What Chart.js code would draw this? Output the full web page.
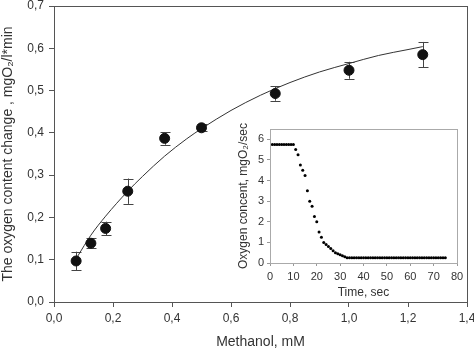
<!DOCTYPE html>
<html>
<head>
<meta charset="utf-8">
<script src="https://cdn.jsdelivr.net/npm/chart.js@4.4.1/dist/chart.umd.min.js"></script>
<style>
  body { margin: 0; background: #fff; overflow: hidden; }
  #wrap { position: relative; width: 474px; height: 351px; }
  #mainChart { position: absolute; left: 0; top: 0; }
  #insetChart { position: absolute; left: 228px; top: 122px; }
</style>
</head>
<body>
<div id="wrap">
  <canvas id="mainChart" width="474" height="351"></canvas>
  <canvas id="insetChart" width="236" height="178"></canvas>
</div>
<script>
// main plot: measured points with error bars
const methanol = [0.075, 0.125, 0.175, 0.25, 0.375, 0.5, 0.75, 1.0, 1.25];
const oxygenChange = [0.097, 0.139, 0.174, 0.262, 0.387, 0.412, 0.493, 0.548, 0.585];
const oxygenErr = [0.022, 0.012, 0.016, 0.030, 0.015, 0.008, 0.017, 0.020, 0.030];

// fitted curve
const fitX = [0.08, 0.125, 0.175, 0.25, 0.3, 0.375, 0.45, 0.5, 0.6, 0.7, 0.8, 0.9, 1.0, 1.1, 1.2, 1.25];
const fitY = [0.108, 0.158, 0.203, 0.262, 0.297, 0.345, 0.386, 0.41, 0.453, 0.489, 0.519, 0.544, 0.564, 0.583, 0.597, 0.604];

// inset: oxygen content over time (1 s steps)
const timeSec = [];
for (let t = 1; t <= 75; t++) timeSec.push(t);
const oxygenContent = [
    5.75, 5.75, 5.75, 5.75, 5.75, 5.75, 5.75, 5.75, 5.75, 5.75,
    5.5, 5.25, 4.75, 4.5, 4.25, 3.5, 3.0, 2.75, 2.25, 2.0,
    1.5, 1.25, 1.0, 0.9, 0.8, 0.7, 0.6, 0.5, 0.45, 0.4,
    0.35, 0.3, 0.25, 0.25, 0.25, 0.25, 0.25, 0.25, 0.25, 0.25,
    0.25, 0.25, 0.25, 0.25, 0.25, 0.25, 0.25, 0.25, 0.25, 0.25,
    0.25, 0.25, 0.25, 0.25, 0.25, 0.25, 0.25, 0.25, 0.25, 0.25,
    0.25, 0.25, 0.25, 0.25, 0.25, 0.25, 0.25, 0.25, 0.25, 0.25,
    0.25, 0.25, 0.25, 0.25, 0.25
];

Chart.defaults.font.family = '"Liberation Sans", Arial, sans-serif';
Chart.defaults.color = '#333';

const comma = v => v.toFixed(1).replace('.', ',');

// draws a box round the chart area
function framePlugin(color) {
    return {
        id: 'frame',
        afterDraw(chart) {
            const {ctx, chartArea: a} = chart;
            ctx.save();
            ctx.strokeStyle = color;
            ctx.lineWidth = 1;
            ctx.strokeRect(Math.round(a.left) + 0.5, Math.round(a.top) + 0.5,
                Math.round(a.right - a.left), Math.round(a.bottom - a.top));
            ctx.restore();
        }
    };
}

const errorBars = {
    id: 'errorBars',
    beforeDatasetsDraw(chart) {
        const {ctx, scales: {x, y}} = chart;
        ctx.save();
        ctx.strokeStyle = '#444';
        ctx.lineWidth = 1;
        methanol.forEach((m, i) => {
            const px = Math.round(x.getPixelForValue(m)) + 0.5;
            const top = y.getPixelForValue(oxygenChange[i] + oxygenErr[i]);
            const bot = y.getPixelForValue(oxygenChange[i] - oxygenErr[i]);
            ctx.beginPath();
            ctx.moveTo(px, top); ctx.lineTo(px, bot);
            ctx.moveTo(px - 5, Math.round(top) + 0.5); ctx.lineTo(px + 5, Math.round(top) + 0.5);
            ctx.moveTo(px - 5, Math.round(bot) + 0.5); ctx.lineTo(px + 5, Math.round(bot) + 0.5);
            ctx.stroke();
        });
        ctx.restore();
    }
};

new Chart(document.getElementById('mainChart'), {
    type: 'scatter',
    data: {
        datasets: [{
            data: methanol.map((m, i) => ({x: m, y: oxygenChange[i]})),
            backgroundColor: '#111',
            borderColor: '#111',
            pointRadius: 5,
            pointHoverRadius: 5,
            order: 0
        }, {
            type: 'line',
            data: fitX.map((v, i) => ({x: v, y: fitY[i]})),
            borderColor: '#333',
            borderWidth: 1,
            pointRadius: 0,
            fill: false,
            cubicInterpolationMode: 'monotone',
            order: 1
        }]
    },
    options: {
        responsive: false,
        animation: false,
        layout: {padding: {top: 4, right: 7, left: 0, bottom: 0}},
        plugins: {legend: {display: false}, tooltip: {enabled: false}},
        scales: {
            x: {
                type: 'linear', min: 0, max: 1.4,
                grid: {drawOnChartArea: false, color: '#555', tickLength: 5},
                border: {color: '#555'},
                ticks: {stepSize: 0.2, padding: 4, font: {size: 12}, callback: v => comma(v), maxRotation: 0},
                title: {display: true, text: 'Methanol, mM', font: {size: 14}, padding: 0},
                afterFit(s) { s.height = 49; s.paddingLeft = 0; s.paddingRight = 0; }
            },
            y: {
                min: 0, max: 0.7,
                grid: {drawOnChartArea: false, color: '#555', tickLength: 5},
                border: {color: '#555'},
                ticks: {stepSize: 0.1, padding: 5, font: {size: 12}, callback: v => comma(v)},
                title: {display: true, text: 'The oxygen content change , mgO₂/l*min', font: {size: 14}, padding: 0},
                afterFit(s) { s.width = 54; s.paddingTop = 0; s.paddingBottom = 0; }
            }
        }
    },
    plugins: [errorBars, framePlugin('#555')]
});

new Chart(document.getElementById('insetChart'), {
    type: 'scatter',
    data: {
        datasets: [{
            data: timeSec.map((t, i) => ({x: t, y: oxygenContent[i]})),
            backgroundColor: '#000',
            borderColor: '#000',
            pointRadius: 1.5,
            pointBorderWidth: 0
        }]
    },
    options: {
        responsive: false,
        animation: false,
        layout: {padding: {top: 7, right: 7, left: 0, bottom: 0}},
        plugins: {legend: {display: false}, tooltip: {enabled: false}},
        scales: {
            x: {
                type: 'linear', min: 0, max: 80,
                grid: {drawOnChartArea: false, color: '#999', tickLength: 3},
                border: {color: '#999'},
                ticks: {stepSize: 10, padding: 4, font: {size: 11}, maxRotation: 0},
                title: {display: true, text: 'Time, sec', font: {size: 12}, padding: 0},
                afterFit(s) { s.height = 37; s.paddingLeft = 0; s.paddingRight = 0; }
            },
            y: {
                min: 0, max: 6.5,
                afterBuildTicks(s) { s.ticks = [0, 1, 2, 3, 4, 5, 6].map(v => ({value: v})); },
                grid: {drawOnChartArea: false, color: '#999', tickLength: 3},
                border: {color: '#999'},
                ticks: {padding: 3, font: {size: 11}},
                title: {display: true, text: 'Oxygen concent, mgO₂/sec', font: {size: 12}, padding: {top: 8}},
                afterFit(s) { s.width = 42; s.paddingTop = 0; s.paddingBottom = 0; }
            }
        }
    },
    plugins: [framePlugin('#aaa')]
});
</script>
</body>
</html>
